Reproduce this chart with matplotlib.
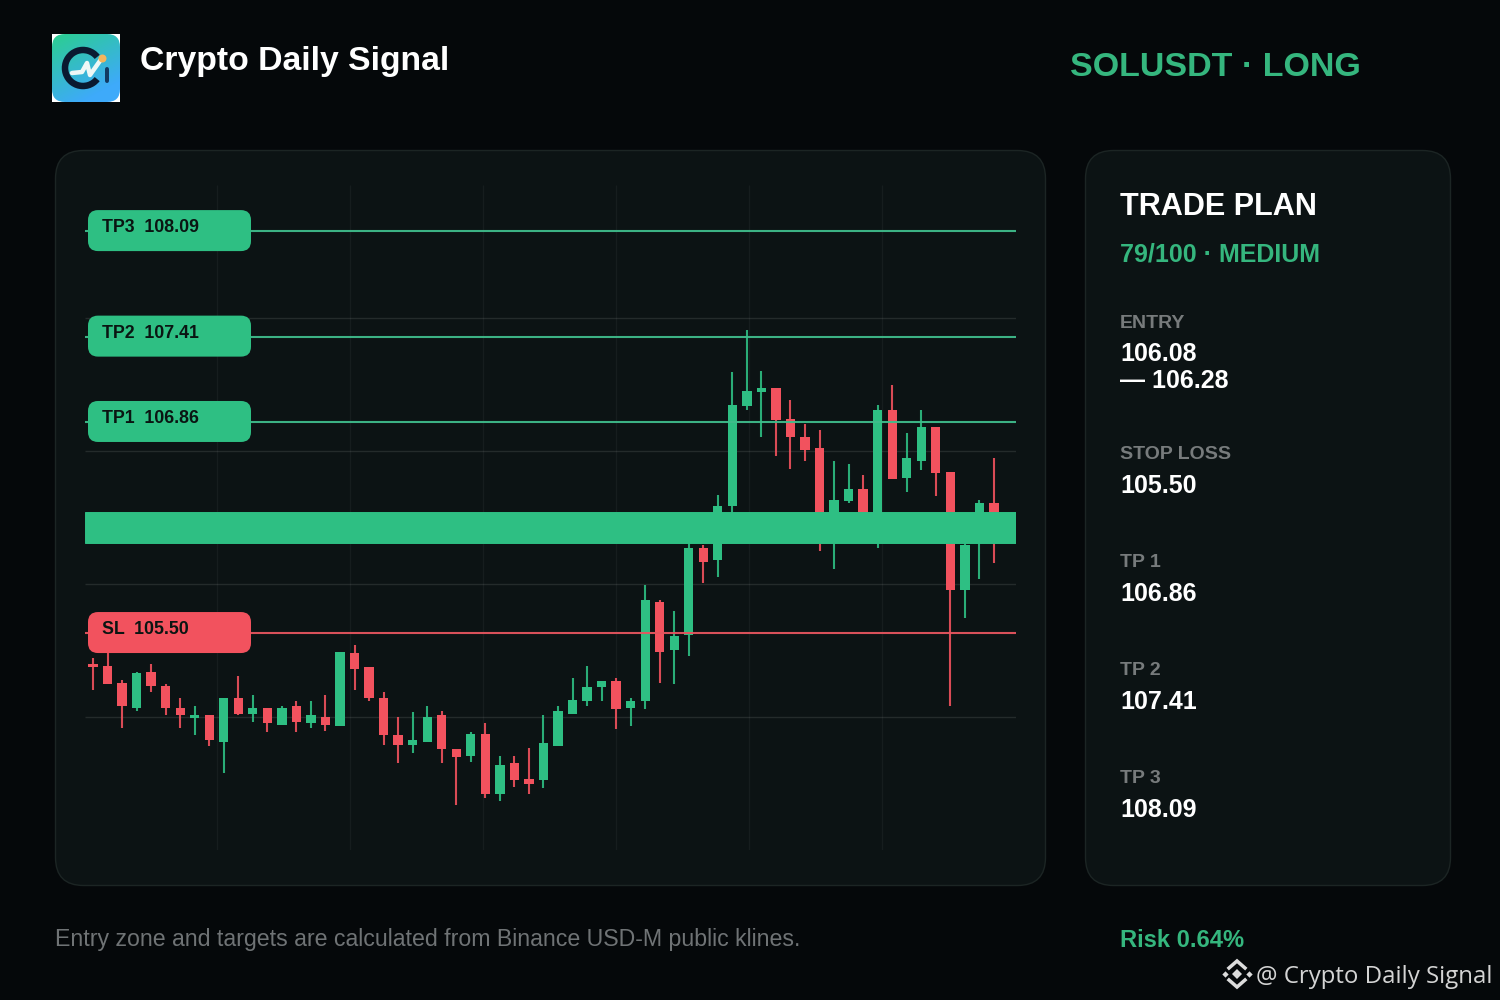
import matplotlib
matplotlib.use("Agg")
import matplotlib.pyplot as plt
from matplotlib.patches import FancyBboxPatch, Arc
import numpy as np

# candles (prices)
opens = [105.30, 105.29, 105.18, 105.02, 105.25, 105.16, 105.02, 104.95, 104.97, 104.80,
         105.08, 104.98, 105.02, 104.91, 105.03, 104.92, 104.96, 104.90, 105.37, 105.28,
         105.08, 104.84, 104.78, 104.80, 104.97, 104.75, 104.71, 104.85, 104.46, 104.66,
         104.56, 104.55, 104.77, 104.98, 105.06, 105.15, 105.19, 105.02, 105.06, 105.70,
         105.39, 105.49, 106.05, 105.97, 106.32, 106.96, 107.05, 107.08, 106.88, 106.76,
         106.69, 106.16, 106.35, 106.43, 106.16, 106.94, 106.50, 106.61, 106.83, 106.54,
         105.78, 106.16, 106.34]
highs = [105.34, 105.39, 105.20, 105.25, 105.30, 105.17, 105.08, 105.03, 104.97, 105.08,
         105.22, 105.10, 105.02, 105.03, 105.06, 105.06, 105.10, 105.38, 105.42, 105.28,
         105.12, 104.96, 104.99, 105.03, 105.00, 104.75, 104.86, 104.92, 104.71, 104.71,
         104.76, 104.97, 105.03, 105.21, 105.29, 105.19, 105.21, 105.08, 105.81, 105.71,
         105.64, 106.10, 106.07, 106.39, 107.18, 107.45, 107.19, 107.08, 107.00, 106.85,
         106.81, 106.61, 106.59, 106.52, 106.97, 107.10, 106.79, 106.94, 106.83, 106.54,
         106.10, 106.36, 106.63]
lows = [105.13, 105.17, 104.89, 105.00, 105.12, 104.97, 104.89, 104.84, 104.77, 104.60,
        104.97, 104.93, 104.86, 104.91, 104.86, 104.89, 104.87, 104.90, 105.13, 105.06,
        104.78, 104.66, 104.73, 104.80, 104.66, 104.39, 104.67, 104.44, 104.42, 104.51,
        104.46, 104.50, 104.77, 104.98, 105.03, 105.06, 104.88, 104.90, 105.01, 105.18,
        105.17, 105.35, 105.82, 105.86, 106.26, 106.94, 106.76, 106.64, 106.56, 106.61,
        106.03, 105.91, 106.34, 106.16, 106.05, 106.49, 106.41, 106.55, 106.38, 105.03,
        105.60, 105.85, 105.95]
closes = [105.28, 105.17, 105.03, 105.24, 105.16, 105.02, 104.97, 104.97, 104.81, 105.08,
          104.98, 105.02, 104.92, 105.02, 104.93, 104.97, 104.91, 105.38, 105.27, 105.08,
          104.84, 104.78, 104.81, 104.96, 104.75, 104.70, 104.85, 104.46, 104.65, 104.55,
          104.53, 104.79, 105.00, 105.07, 105.15, 105.19, 105.01, 105.06, 105.71, 105.38,
          105.48, 106.05, 105.96, 106.32, 106.97, 107.06, 107.08, 106.87, 106.76, 106.68,
          106.16, 106.36, 106.43, 106.16, 106.94, 106.49, 106.63, 106.83, 106.53, 105.78,
          106.07, 106.34, 106.16]

level_names = ["TP3", "TP2", "TP1", "SL"]
level_values = [108.09, 107.41, 106.86, 105.50]
entry_low = 106.08
entry_high = 106.28

plan_labels = ["STOP LOSS", "TP 1", "TP 2", "TP 3"]
plan_values = ["105.50", "106.86", "107.41", "108.09"]

BG = "#05080a"
CARD = "#0c1314"
EDGE = "#1c2524"
GREEN = "#2ebf83"
RED = "#f2525e"
LINE_GREEN = "#3fbc8b"
LINE_RED = "#e5555f"
HEAD_GREEN = "#35b67e"
GREY = "#777b7c"
W, H = 1500, 1000

plt.rcParams["font.family"] = ["Liberation Sans", "DejaVu Sans"]
fig = plt.figure(figsize=(15, 10), dpi=100, facecolor=BG)


def px(size):
    return size * 72 / 100


def pixel_axes(z):
    a = fig.add_axes([0, 0, 1, 1], zorder=z)
    a.set_xlim(0, W)
    a.set_ylim(H, 0)
    a.axis("off")
    a.patch.set_alpha(0)
    return a


def rbox(a, x0, y0, x1, y1, r, **kw):
    p = FancyBboxPatch((x0 + r, y0 + r), x1 - x0 - 2 * r, y1 - y0 - 2 * r,
                       boxstyle="round,pad=%s,rounding_size=%s" % (r, r), **kw)
    a.add_patch(p)
    return p


bg = pixel_axes(0)
rbox(bg, 55.5, 150.5, 1045.5, 885.5, 28, fc=CARD, ec=EDGE, lw=1)
rbox(bg, 1085.5, 150.5, 1450.5, 885.5, 28, fc=CARD, ec=EDGE, lw=1)

# logo
bg.fill_between([52, 120], 34, 102, color="white", lw=0)
clip = rbox(bg, 52, 34, 120, 102, 13, fc="none", ec="none")
u, v = np.meshgrid(np.linspace(0, 1, 68), np.linspace(0, 1, 68))
mix = np.clip(0.45 * u + 0.85 * v - 0.05, 0, 1)[..., None]
grad = np.array([44, 205, 148]) / 255 * (1 - mix) + np.array([62, 170, 250]) / 255 * mix
img = bg.imshow(grad, extent=[52, 120, 102, 34], aspect="auto", zorder=2)
img.set_clip_path(clip)
bg.set_xlim(0, W)
bg.set_ylim(H, 0)
bg.add_patch(Arc((83, 68), 36, 36, theta1=38, theta2=322, color="#0a1a30", lw=px(6.5), zorder=3))
bg.plot([72, 82, 87, 90, 102], [73, 72, 63, 75, 58], color="#eef8f6", lw=px(4.5), zorder=4,
        solid_capstyle="round", solid_joinstyle="round")
bg.plot([102], [58], "o", ms=px(8), color="#f3b55c", mew=0, zorder=5)
bg.plot([107, 107], [69, 81], color="#123a63", lw=px(4), zorder=4, solid_capstyle="round")

# chart
ax = fig.add_axes([85 / W, 1 - 850 / H, 931 / W, 665 / H], zorder=1)
ax.patch.set_alpha(0)
for s in ax.spines.values():
    s.set_visible(False)
ax.tick_params(left=False, bottom=False, labelleft=False, labelbottom=False)
ax.set_xlim(-0.55, 63.52)
ax.set_ylim(104.102, 108.387)

ax.vlines(np.linspace(-0.6, 63.47, 8)[1:-1], 104.102, 108.387, color="#ffffff", alpha=0.045, lw=1, zorder=1)
ax.hlines(np.linspace(104.102, 108.387, 6)[1:-1], -0.55, 63.52, color="#ffffff", alpha=0.1, lw=1, zorder=1)

idx = np.arange(len(opens))
o, h, l, c = map(np.array, (opens, highs, lows, closes))
up = c >= o
cols = np.where(up, GREEN, RED)
ax.vlines(idx, l, h, colors=cols, lw=1.5, alpha=0.9, zorder=2)
ax.bar(idx, np.abs(c - o), bottom=np.minimum(o, c), width=0.64, color=cols, lw=0, zorder=3)

ax.axhspan(entry_low, entry_high, fc=GREEN, ec=GREEN, lw=0.7, zorder=4)
for name, val in zip(level_names, level_values):
    ax.axhline(val, color=LINE_RED if name == "SL" else LINE_GREEN, lw=1.5, alpha=0.95, zorder=5)

# level tags sit on top of the chart
top = pixel_axes(2)
for name, val in zip(level_names, level_values):
    ypix = H - ax.transData.transform((0, val))[1]
    colr = RED if name == "SL" else GREEN
    rbox(top, 88, ypix - 21, 251, ypix + 20, 10, fc=colr, ec="none")
    top.text(102, ypix + 1, "%s  %.2f" % (name, val), fontsize=px(17.8), fontweight="bold",
             color="#0a1512", va="baseline")

# header
top.text(140, 70, "Crypto Daily Signal", fontsize=px(33.8), fontweight="bold", color="white", va="baseline")
top.text(1070, 76, "SOLUSDT · LONG", fontsize=px(34), fontweight="bold", color=HEAD_GREEN, va="baseline")

# side panel
top.text(1120, 215, "TRADE PLAN", fontsize=px(30.7), fontweight="bold", color="white", va="baseline")
top.text(1120, 261, "79/100 · MEDIUM", fontsize=px(25), fontweight="bold", color=HEAD_GREEN, va="baseline")
top.text(1120, 328, "ENTRY", fontsize=px(19.5), fontweight="bold", color=GREY, va="baseline")
top.text(1120, 361, "106.08", fontsize=px(25), fontweight="bold", color="white", va="baseline")
top.text(1120, 388, "— 106.28", fontsize=px(25), fontweight="bold", color="white", va="baseline")
for i, (lab, val) in enumerate(zip(plan_labels, plan_values)):
    off = 108 * i
    top.text(1120, 459 + off, lab, fontsize=px(19.5), fontweight="bold", color=GREY, va="baseline")
    top.text(1120, 493 + off, val, fontsize=px(25), fontweight="bold", color="white", va="baseline")

# footer
top.text(55, 946, "Entry zone and targets are calculated from Binance USD-M public klines.",
         fontsize=px(23.1), color="#6f7375", va="baseline")
top.text(1120, 947, "Risk 0.64%", fontsize=px(23.8), fontweight="bold", color=HEAD_GREEN, va="baseline")

# watermark
cx, cy = 1237, 974
wm = "#dcdcdc"
top.plot([cx - 8, cx, cx + 8], [cy - 6, cy - 13, cy - 6], color=wm, lw=px(3.5), solid_joinstyle="miter")
top.plot([cx - 8, cx, cx + 8], [cy + 6, cy + 13, cy + 6], color=wm, lw=px(3.5), solid_joinstyle="miter")
top.plot([cx - 12, cx + 12], [cy, cy], "D", ms=px(4.5), color=wm, mew=0)
top.plot([cx], [cy], "D", ms=px(7), color=wm, mew=0)
top.text(1256, 983, "@ Crypto Daily Signal", fontsize=px(24), color="#d4d4d4", va="baseline",
         family=["Open Sans", "DejaVu Sans"])

fig.savefig("out.png", dpi=100, facecolor=BG)
